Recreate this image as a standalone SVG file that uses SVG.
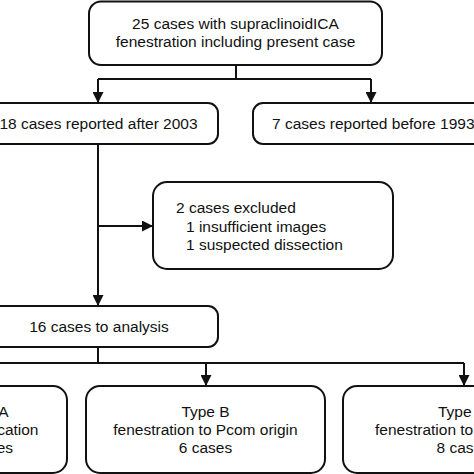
<svg xmlns="http://www.w3.org/2000/svg" width="474" height="474" viewBox="0 0 474 474">
<style>
.box{fill:#fff;stroke:#111;stroke-width:2}
.t{font-family:"Liberation Sans",Arial,sans-serif;font-size:15.5px;fill:#111}
.m{text-anchor:middle}
.e{text-anchor:end}
.c{fill:none;stroke:#111;stroke-width:2}
</style>
<defs>
<marker id="arr" viewBox="0 0 10 10" refX="10" refY="5" markerWidth="11" markerHeight="11" markerUnits="userSpaceOnUse" orient="auto">
<path d="M0,0 L10,5 L0,10 z" fill="#111"/>
</marker>
</defs>
<rect width="474" height="474" fill="#fff"/>
<g id="connectors">
<path class="c" d="M236,65 V79 M98,79 H371"/>
<path class="c" d="M98,79 V103" marker-end="url(#arr)"/>
<path class="c" d="M371,79 V103" marker-end="url(#arr)"/>
<path class="c" d="M98,144 V306" marker-end="url(#arr)"/>
<path class="c" d="M98,226 H153" marker-end="url(#arr)"/>
<path class="c" d="M98,347 V363 M-60,363 H464"/>
<path class="c" d="M206,363 V386" marker-end="url(#arr)"/>
<path class="c" d="M464,363 V386" marker-end="url(#arr)"/>
</g>
<g id="n-total">
<rect class="box" x="89" y="1.5" width="293" height="63.5" rx="12"/>
<text class="t m" x="235.5" y="29">25 cases with supraclinoidICA</text>
<text class="t m" x="235.5" y="47">fenestration including present case</text>
</g>
<g id="n-after2003">
<rect class="box" x="-22" y="103" width="240" height="41" rx="10"/>
<text class="t m" x="98.5" y="129">18 cases reported after 2003</text>
</g>
<g id="n-before1993">
<rect class="box" x="253" y="103" width="240" height="41" rx="10"/>
<text class="t" x="272" y="129">7 cases reported before 1993</text>
</g>
<g id="n-excluded">
<rect class="box" x="153" y="182" width="240" height="87" rx="14"/>
<text class="t" x="176" y="213">2 cases excluded</text>
<text class="t" x="186" y="232">1 insufficient images</text>
<text class="t" x="186" y="250">1 suspected dissection</text>
</g>
<g id="n-analysis">
<rect class="box" x="-22" y="306" width="240" height="41" rx="10"/>
<text class="t m" x="99" y="332">16 cases to analysis</text>
</g>
<g id="n-typeA">
<rect class="box" x="-173" y="386" width="240" height="87" rx="14"/>
<text class="t e" x="8.5" y="417">Type A</text>
<text class="t e" x="38.5" y="435">cation</text>
<text class="t e" x="13" y="453">es</text>
</g>
<g id="n-typeB">
<rect class="box" x="86" y="386" width="239" height="87" rx="14"/>
<text class="t m" x="205.5" y="417">Type B</text>
<text class="t m" x="205.5" y="435">fenestration to Pcom origin</text>
<text class="t m" x="205.5" y="453">6 cases</text>
</g>
<g id="n-typeC">
<rect class="box" x="343" y="386" width="240" height="87" rx="14"/>
<text class="t" x="438" y="417">Type C</text>
<text class="t" x="375" y="435">fenestration to</text>
<text class="t" x="436.5" y="453">8 cases</text>
</g>
</svg>
